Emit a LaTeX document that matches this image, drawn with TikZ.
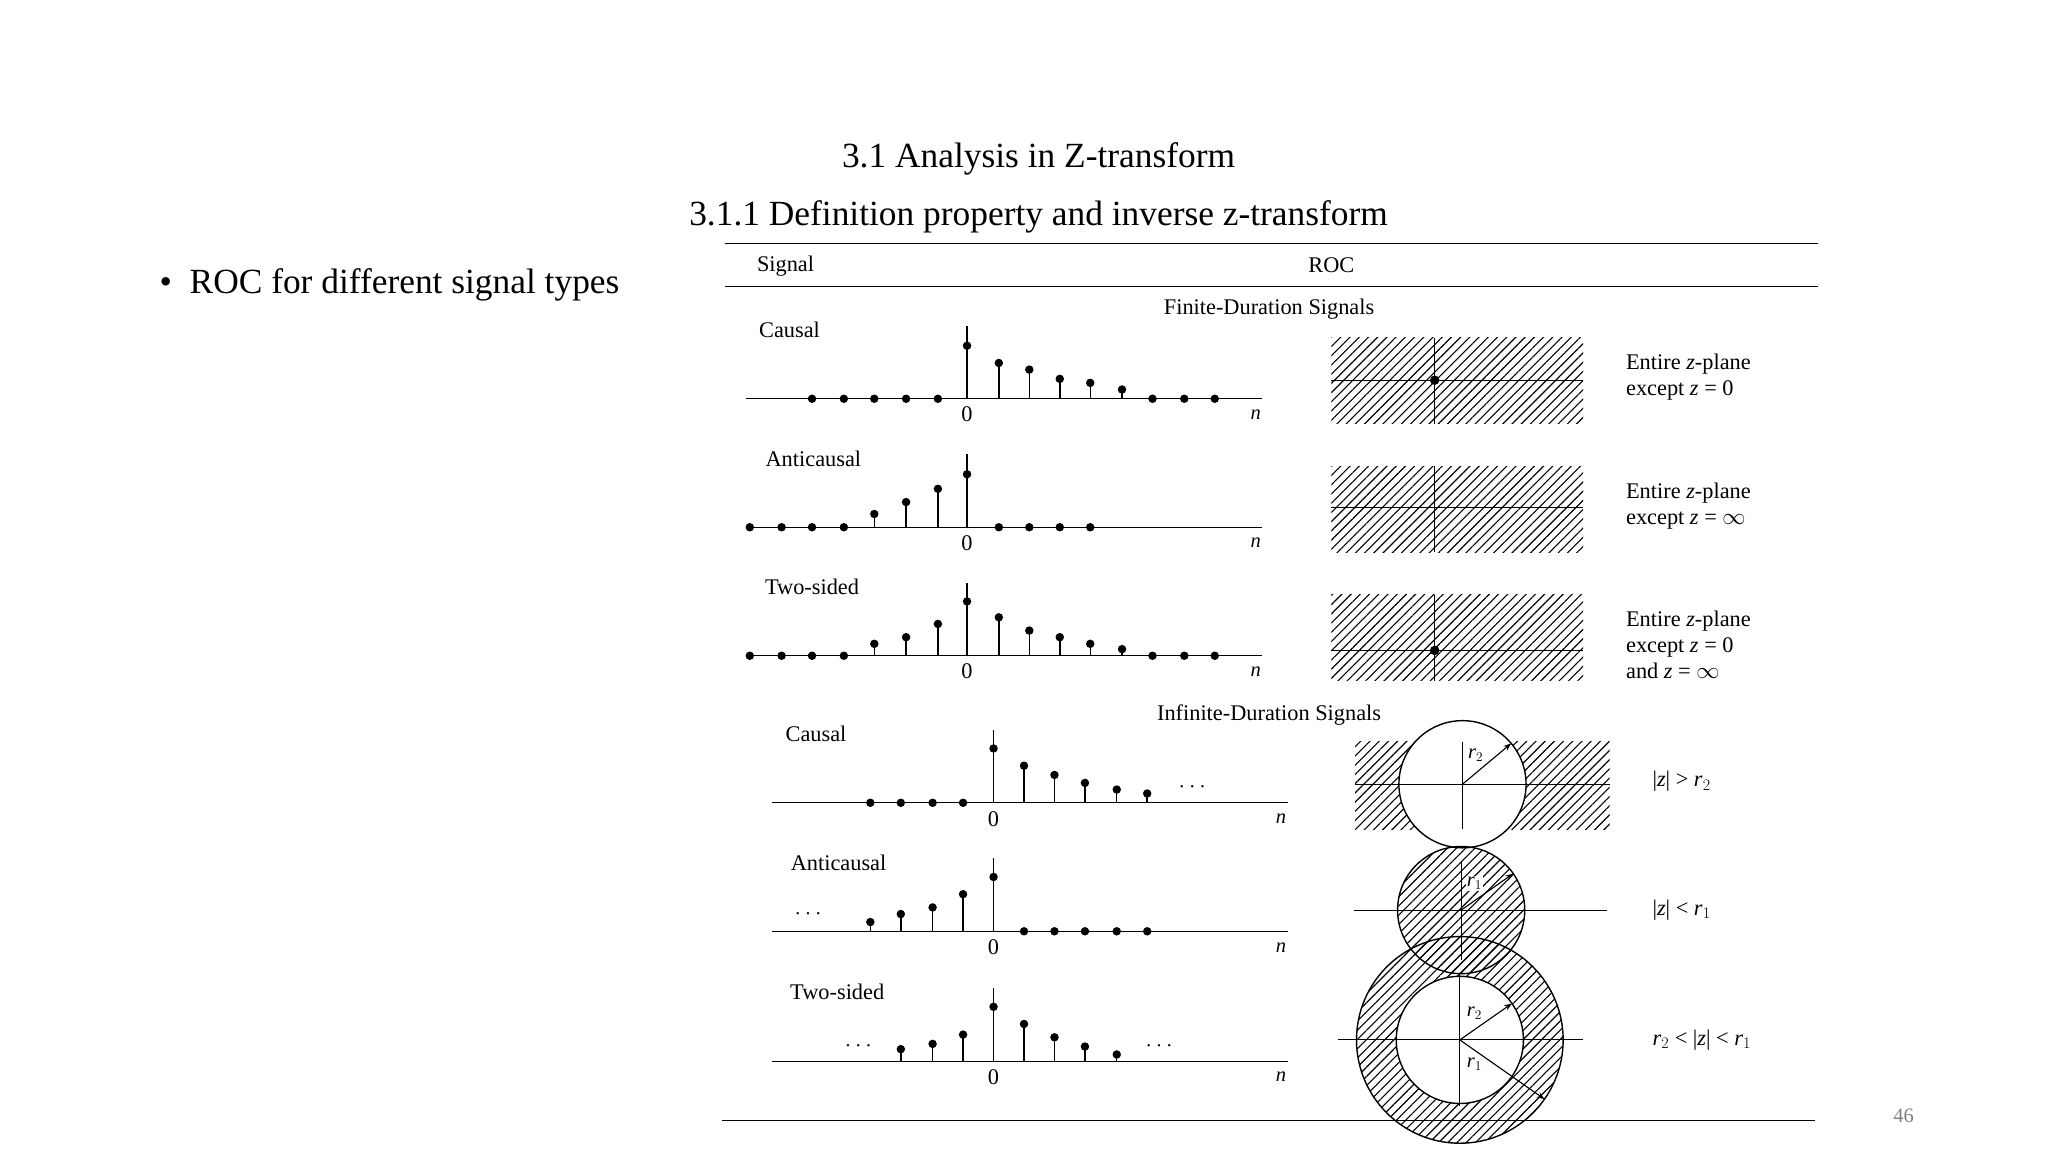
\documentclass[tikz,border=0pt]{standalone}
\usepackage{fontspec}
\setmainfont{Liberation Serif}
\usetikzlibrary{patterns.meta,arrows.meta}
\tikzset{
 hat/.style={pattern={Lines[angle=45,distance=7pt,line width=1.2pt]}},
 lbl/.style={font=\fontsize{24}{28}\selectfont},
 sm/.style={font=\fontsize{22}{24}\selectfont\itshape},
 ttl/.style={font=\fontsize{38}{44}\selectfont}
}
\newcommand{\stemrow}[3]{% baseline y, x0..x1 axis, list x/h
 \foreach \xx/\hh in {#3}{%
  \ifdim \hh pt=0pt
   \fill (\xx,#1) circle (0.16cm);
  \else
   \draw[line width=1.6pt] (\xx,#1) -- (\xx,#1-\hh);
   \fill (\xx,#1-\hh) circle (0.16cm);
  \fi}}
\begin{document}
\begin{tikzpicture}[x=0.05cm,y=-0.05cm]
\useasboundingbox (0,0) rectangle (1546,870);
\node[ttl] (t1) at (784,120) {3.1 Analysis in Z-transform};
\node[ttl] (t2) at (784,164) {3.1.1 Definition property and inverse z-transform};
\node[ttl,anchor=west] (b) at (118,215) {\textbullet\ \ ROC for different signal types};
\draw[line width=1.2pt] (547,184) -- (1372,184);
\draw[line width=1.2pt] (547,216) -- (1372,216);
\draw[line width=1.2pt] (545,846) -- (1370,846);
\node[lbl] (sg) at (593,201) {Signal};
\node[lbl] (roc) at (1005,200) {ROC};
\node[lbl] (fd) at (958,233) {Finite-Duration Signals};
\node[lbl] (id) at (958,540) {Infinite-Duration Signals};
% finite rows
\foreach \b/\nm/\lx in {301/Causal/596,398/Anticausal/614,495/Two-sided/613}{
 \node[lbl] at (\lx,\b-52) {\nm};
 \draw[line width=1.2pt] (563,\b) -- (953,\b);
 \draw[line width=1.2pt] (730,\b) -- (730,\b-55);
 \node[lbl] at (730,\b+12) {0};
 \node[sm] at (948,\b+12) {n};
}
\stemrow{301}{}{613/0,637/0,660/0,684/0,708/0,730/40,754/27,777/22,800/15,823/12,847/7,870/0,894/0,917/0}
\stemrow{398}{}{566/0,590/0,613/0,637/0,660/10,684/19,708/29,730/40,754/0,777/0,800/0,823/0}
\stemrow{495}{}{566/0,590/0,613/0,637/0,660/9,684/14,708/24,730/41,754/29,777/19,800/14,823/9,847/5,870/0,894/0,917/0}
\foreach \ty/\ay/\dt in {255/287/1,352/383/0,449/491/1}{
 \fill[white] (1005,\ty) rectangle (1195,\ty+65);
 \path[hat] (1005,\ty) rectangle (1195,\ty+65);
 \draw[line width=1.2pt] (1005,\ay) -- (1195,\ay);
 \draw[line width=1.2pt] (1083,\ty) -- (1083,\ty+65);
 \ifnum\dt=1 \fill (1083,\ay) circle (0.18cm); \fi
}
\node[lbl,anchor=west,align=left] at (1225,285) {Entire \textit{z}-plane\\except \textit{z} = 0};
\node[lbl,anchor=west,align=left] at (1225,382) {Entire \textit{z}-plane\\except \textit{z} = $\infty$};
\node[lbl,anchor=west,align=left] at (1225,487) {Entire \textit{z}-plane\\except \textit{z} = 0\\and \textit{z} = $\infty$};
% infinite rows
\foreach \b/\nm/\lx in {606/Causal/616,703/Anticausal/633,801/Two-sided/632}{
 \node[lbl] at (\lx,\b-52) {\nm};
 \draw[line width=1.2pt] (583,\b) -- (972,\b);
 \draw[line width=1.2pt] (750,\b) -- (750,\b-55);
 \node[lbl] at (750,\b+12) {0};
 \node[sm] at (967,\b+12) {n};
}
\stemrow{606}{}{657/0,680/0,704/0,727/0,750/41,773/28,796/21,819/15,843/10,866/7}
\node[lbl] at (900,594) {$\cdots$};
\stemrow{703}{}{657/7,680/13,704/18,727/28,750/41,773/0,796/0,819/0,843/0,866/0}
\node[lbl] at (610,690) {$\cdots$};
\stemrow{801}{}{680/9,704/13,727/20,750/41,773/28,796/18,819/11,843/5}
\node[lbl] at (648,790) {$\cdots$};
\node[lbl] at (875,790) {$\cdots$};
% ROC infinite causal
\fill[white] (1023,560) rectangle (1215,626);
\path[hat] (1023,560) rectangle (1215,626);
\fill[white] (1104,592) circle (2.4cm);
\draw[line width=1.5pt] (1104,592) circle (2.4cm);
\draw[line width=1.2pt] (1023,592) -- (1215,592);
\draw[line width=1.2pt] (1104,560) -- (1104,626);
\draw[-{Stealth},line width=1.2pt] (1104,592) -- ++(40:2.4cm);
\node[sm] at (1114,570) {r$_2$};
\node[lbl,anchor=west] at (1245,590) {|\textit{z}| > \textit{r}$_2$};
% anticausal
\path[hat] (1103,687) circle (2.4cm);
\draw[line width=1.5pt] (1103,687) circle (2.4cm);
\draw[line width=1.2pt] (1022,687) -- (1213,687);
\draw[line width=1.2pt] (1103,650) -- (1103,725);
\draw[-{Stealth},line width=1.2pt] (1103,687) -- ++(35:2.4cm);
\node[sm,fill=white,inner sep=1pt] at (1113,667) {r$_1$};
\node[lbl,anchor=west] at (1245,687) {|\textit{z}| < \textit{r}$_1$};
% two-sided
\path[hat] (1102,785) circle (3.9cm);
\fill[white] (1102,785) circle (2.4cm);
\draw[line width=1.5pt] (1102,785) circle (3.9cm);
\draw[line width=1.5pt] (1102,785) circle (2.4cm);
\draw[line width=1.2pt] (1010,785) -- (1195,785);
\draw[line width=1.2pt] (1102,735) -- (1102,835);
\draw[-{Stealth},line width=1.2pt] (1102,785) -- ++(35:2.4cm);
\draw[-{Stealth},line width=1.2pt] (1102,785) -- ++(-35:3.9cm);
\node[sm] at (1113,765) {r$_2$};
\node[sm,fill=white,inner sep=1pt] at (1113,803) {r$_1$};
\node[lbl,anchor=west] at (1245,785) {\textit{r}$_2$ < |\textit{z}| < \textit{r}$_1$};
\node[font=\fontsize{22}{24}\selectfont,text=gray] at (1437,842) {46};
\end{tikzpicture}
\end{document}
